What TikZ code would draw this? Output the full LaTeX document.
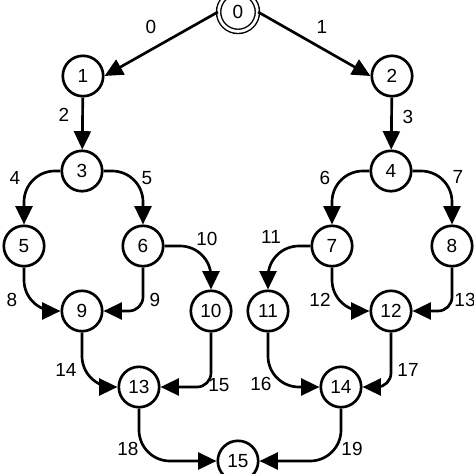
\documentclass[tikz,border=0pt]{standalone}
\usepackage{fontspec}
\setmainfont{Liberation Sans}
\usetikzlibrary{arrows.meta}

\tikzset{
  vtx/.style={draw, circle, line width=1.9pt, minimum size=1.01cm, inner sep=0pt,
              font=\fontsize{13.5}{15}\selectfont},
  vtxstart/.style={vtx, double, line width=1pt, double distance=2pt, minimum size=0.97cm},
  lbl/.style={font=\fontsize{13.5}{15}\selectfont, inner sep=0pt},
  trans/.style={line width=1.9pt, -{Triangle[length=13pt,width=12pt]}, rounded corners=22pt},
  tight/.style={rounded corners=10pt}
}

\begin{document}
\begin{tikzpicture}[x=0.025cm, y=-0.025cm]
  \useasboundingbox (0,0) rectangle (474,474);

  % states
  \node[vtxstart] (n0) at (238,12) {0};
  \foreach \i/\x/\y in {1/83/76, 2/392/76, 3/82/171, 4/391/171,
                        5/24/246, 6/143/246, 7/332/246, 8/452/246,
                        9/82/311, 10/211/311, 11/268/311, 12/391/311,
                        13/139/387, 14/341/387, 15/238/461}
    \node[vtx] (n\i) at (\x,\y) {\i};

  % transitions
  \draw[trans, rounded corners=0pt] (n0.west) -- (n1.east);
  \draw[trans, rounded corners=0pt] (n0.east) -- (n2.west);
  \draw[trans] (n1) -- (n3);
  \draw[trans] (n2) -- (n4);
  \draw[trans] (n3.west) -| (n5.north);
  \draw[trans] (n3.east) -| (n6.north);
  \draw[trans] (n4.west) -| (n7.north);
  \draw[trans] (n4.east) -| (n8.north);
  \draw[trans] (n5.south) |- (n9.west);
  \draw[trans, tight] (n6.south) |- (n9.east);
  \draw[trans] (n6.east) -| (n10.north);
  \draw[trans] (n7.west) -| (n11.north);
  \draw[trans] (n7.south) |- (n12.west);
  \draw[trans, tight] (n8.south) |- (n12.east);
  \draw[trans] (n9.south) |- (n13.west);
  \draw[trans, tight] (n10.south) |- (n13.east);
  \draw[trans] (n11.south) |- (n14.west);
  \draw[trans, tight] (n12.south) |- (n14.east);
  \draw[trans] (n13.south) |- (n15.west);
  \draw[trans] (n14.south) |- (n15.east);

  % transition labels
  \foreach \t/\x/\y in {0/151/27, 1/322/27, 2/64/115, 3/408/117,
                        4/15/178, 5/147/178, 6/325/178, 7/458/177,
                        8/12/300, 9/155/300, 10/207/239, 11/271/237,
                        12/320/300, 13/465/300, 14/66/370, 15/219/385,
                        16/261/384, 17/408/370, 18/128/449, 19/352/449}
    \node[lbl] (t\t) at (\x,\y) {\t};
\end{tikzpicture}
\end{document}
